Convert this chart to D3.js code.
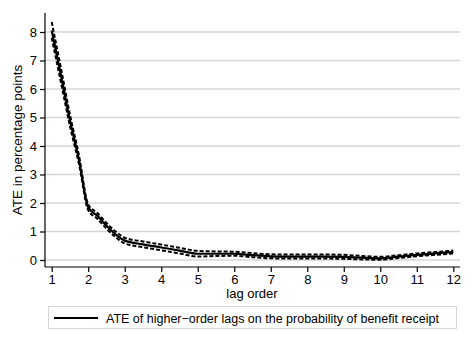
<!DOCTYPE html>
<html>
<head>
<meta charset="utf-8">
<script src="https://cdn.jsdelivr.net/npm/d3@7"></script>
<style>
  body { margin: 0; background: #fff; }
  svg { display: block; font-family: "Liberation Sans", Arial, Helvetica, sans-serif; }
</style>
</head>
<body>
<svg id="chart" width="474" height="345"></svg>
<script>
// Lag order grid and estimated effects (percentage points)
const lags  = [1, 1.25, 1.5, 1.75, 2, 2.25, 2.5, 2.75, 3, 3.5, 4, 4.5, 5, 5.5, 6, 6.5, 7, 7.5, 8, 8.5, 9, 9.5, 10, 10.5, 11, 11.5, 12];
const ate   = [8.05, 6.5, 4.9, 3.5, 1.85, 1.55, 1.2, 0.9, 0.68, 0.55, 0.44, 0.33, 0.22, 0.22, 0.22, 0.17, 0.13, 0.12, 0.12, 0.12, 0.11, 0.08, 0.06, 0.12, 0.18, 0.23, 0.28];
const upper = [8.35, 6.75, 5.1, 3.65, 1.95, 1.65, 1.3, 1.0, 0.78, 0.65, 0.54, 0.43, 0.32, 0.3, 0.29, 0.24, 0.2, 0.19, 0.19, 0.19, 0.18, 0.14, 0.11, 0.17, 0.23, 0.28, 0.33];
const lower = [7.8, 6.25, 4.7, 3.35, 1.75, 1.45, 1.1, 0.8, 0.58, 0.45, 0.34, 0.23, 0.12, 0.14, 0.15, 0.1, 0.06, 0.05, 0.05, 0.05, 0.04, 0.02, 0.01, 0.07, 0.13, 0.18, 0.23];
const xTicks = [1, 2, 3, 4, 5, 6, 7, 8, 9, 10, 11, 12];
const yTicks = [0, 1, 2, 3, 4, 5, 6, 7, 8];
const legendLabel = "ATE of higher\u2212order lags on the probability of benefit receipt";

const svg = d3.select("#chart");
const x = d3.scaleLinear().domain([1, 12]).range([51.7, 453.3]);
const y = d3.scaleLinear().domain([0, 8]).range([260, 32]);

const axisX = 45, axisY = 267, plotTop = 13, plotRight = 460;

// horizontal grid
svg.append("g").selectAll("line").data(yTicks).join("line")
  .attr("x1", axisX).attr("x2", plotRight)
  .attr("y1", d => y(d)).attr("y2", d => y(d))
  .attr("stroke", "#d6d6d6").attr("stroke-width", 1.4);

// y axis
const gy = svg.append("g").attr("transform", `translate(${axisX},0)`)
  .call(d3.axisLeft(y).tickValues(yTicks).tickSize(5).tickPadding(3).tickSizeOuter(0));
gy.select(".domain").remove();
gy.append("line").attr("x1", 0).attr("x2", 0).attr("y1", plotTop).attr("y2", axisY)
  .attr("stroke", "#000").attr("stroke-width", 1.2);
gy.selectAll(".tick line").attr("stroke", "#000").attr("stroke-width", 1.2);
gy.selectAll(".tick text").attr("font-size", 13).attr("fill", "#000")
  .attr("font-family", "Liberation Sans, Arial, sans-serif");

// x axis
const gx = svg.append("g").attr("transform", `translate(0,${axisY})`)
  .call(d3.axisBottom(x).tickValues(xTicks).tickSize(5).tickPadding(3).tickSizeOuter(0));
gx.select(".domain").remove();
gx.append("line").attr("x1", axisX).attr("x2", plotRight).attr("y1", 0).attr("y2", 0)
  .attr("stroke", "#000").attr("stroke-width", 1.2);
gx.selectAll(".tick line").attr("stroke", "#000").attr("stroke-width", 1.2);
gx.selectAll(".tick text").attr("font-size", 13).attr("fill", "#000")
  .attr("font-family", "Liberation Sans, Arial, sans-serif");

// axis titles
svg.append("text").attr("x", 252).attr("y", 298).attr("text-anchor", "middle")
  .attr("font-size", 13).text("lag order");
svg.append("text").attr("transform", "translate(22,140) rotate(-90)")
  .attr("text-anchor", "middle").attr("font-size", 13.5).text("ATE in percentage points");

// confidence bounds and point estimate
const line = d3.line().x((d, i) => x(lags[i])).y(d => y(d)).curve(d3.curveMonotoneX);
[upper, lower].forEach(s => {
  svg.append("path").attr("d", line(s)).attr("fill", "none")
    .attr("stroke", "#000").attr("stroke-width", 2).attr("stroke-dasharray", "4,2");
});
svg.append("path").attr("d", line(ate)).attr("fill", "none")
  .attr("stroke", "#000").attr("stroke-width", 2.2);

// legend
const lg = svg.append("g");
lg.append("rect").attr("x", 48.5).attr("y", 306.5).attr("width", 408).attr("height", 22)
  .attr("fill", "#fff").attr("stroke", "#d6d6d6").attr("stroke-width", 1);
lg.append("line").attr("x1", 54).attr("x2", 98).attr("y1", 318).attr("y2", 318)
  .attr("stroke", "#000").attr("stroke-width", 2);
lg.append("text").attr("x", 106).attr("y", 322.5).attr("font-size", 12.5).text(legendLabel);
</script>
</body>
</html>
